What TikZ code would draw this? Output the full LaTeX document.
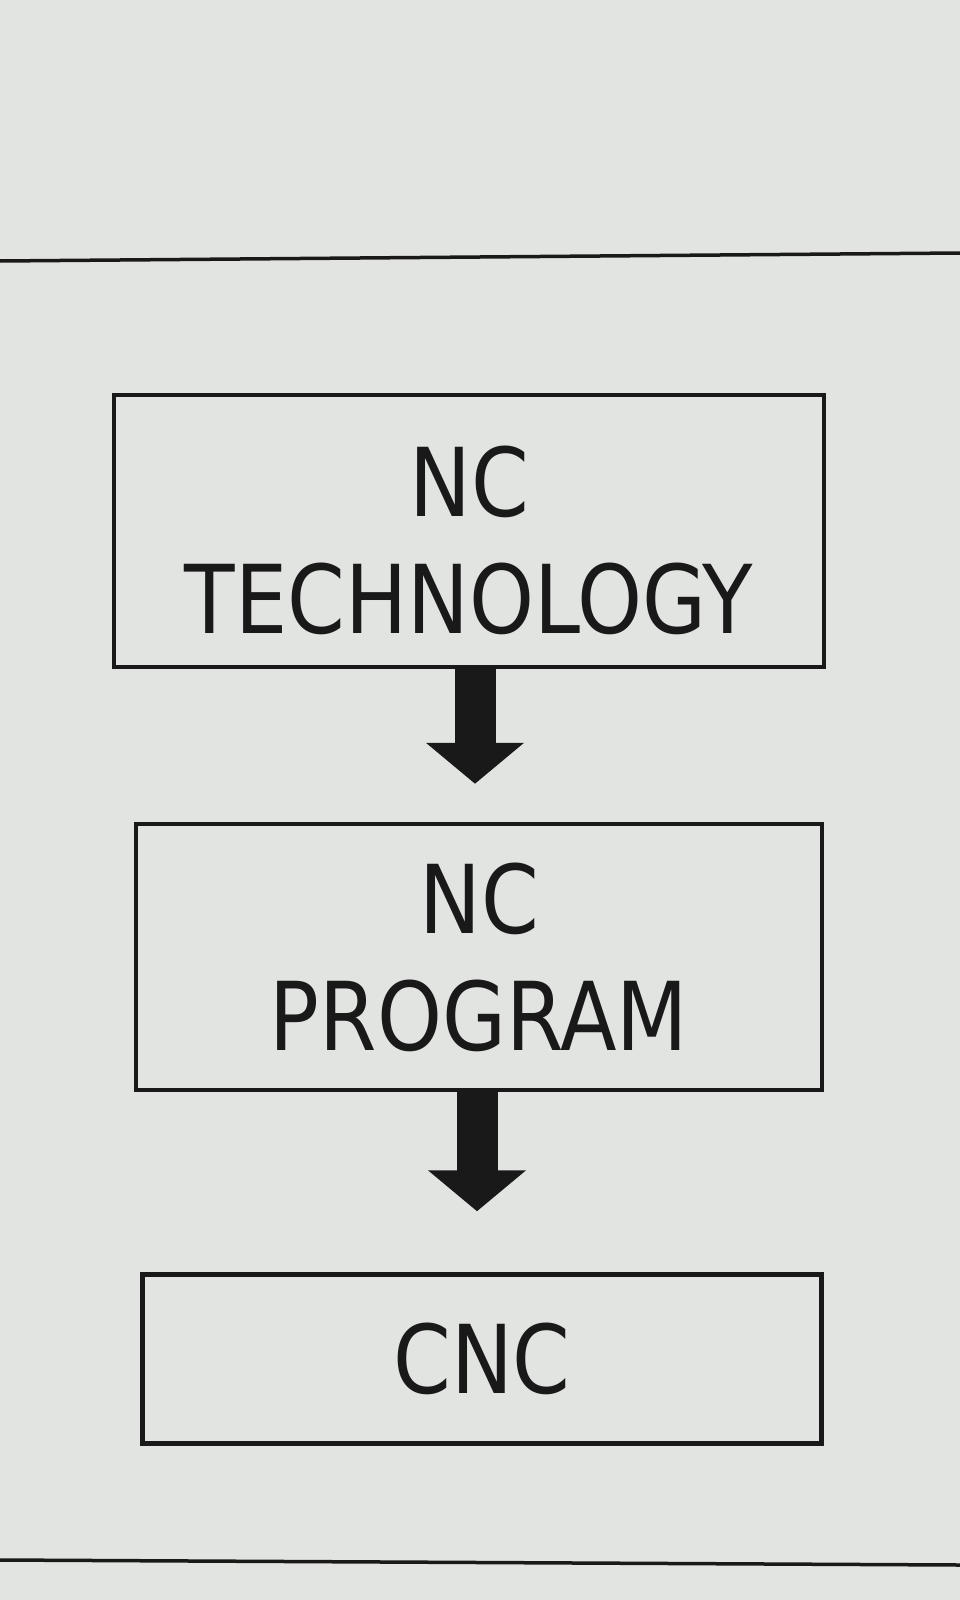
\documentclass[tikz,border=0pt]{standalone}
\usepackage{fontspec}
\setmainfont[FakeStretch=0.87]{DejaVu Sans}
\usetikzlibrary{arrows.meta,positioning}
\definecolor{paper}{RGB}{226,228,225}
\definecolor{ink}{RGB}{25,25,25}
\tikzset{
  flowbox/.style={draw=ink, line width=4.5pt, align=center, inner sep=0pt,
    text=ink, font=\fontsize{95}{117}\selectfont},
  flowarrow/.style={draw=ink, line width=41pt,
    -{Triangle[width=96pt,length=41pt]}}
}
\begin{document}
\begin{tikzpicture}[x=1pt,y=-1pt]
\fill[paper] (0,0) rectangle (960,1600);
\useasboundingbox (0,0) rectangle (960,1600);
% page rules
\draw[ink, line width=3.5pt] (0,261) -- (960,253);
\draw[ink, line width=3.5pt] (0,1560) -- (960,1565);
% boxes
\node[flowbox, minimum width=710pt, minimum height=272pt] (tech) at (469,531) {\rule{0pt}{90pt}NC\\TECHNOLOGY};
\node[flowbox, minimum width=686pt, minimum height=266pt] (prog) at (479,957) {NC\\PROGRAM};
\node[flowbox, minimum width=679pt, minimum height=169pt] (cnc) at (482,1359) {CNC};
% arrows
\draw[flowarrow, shorten >=38pt] ([xshift=6pt]tech.south) -- ([xshift=6pt]tech.south |- prog.north);
\draw[flowarrow, shorten >=61pt] ([xshift=-2pt]prog.south) -- ([xshift=-2pt]prog.south |- cnc.north);
\end{tikzpicture}
\end{document}
